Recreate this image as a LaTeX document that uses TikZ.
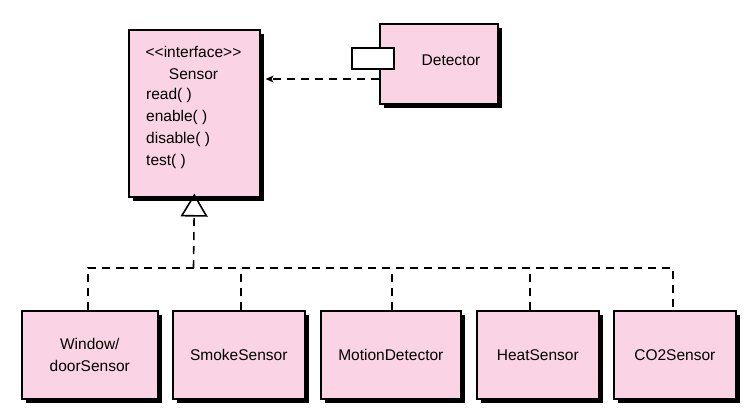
\documentclass[tikz,border=0pt]{standalone}
\usepackage{fontspec}
\setmainfont{Liberation Sans}
\usetikzlibrary{arrows.meta,shadows,calc}
\definecolor{boxpink}{RGB}{250,212,228}
\tikzset{
  umlbox/.style={draw=black, line width=1.6pt, fill=boxpink, anchor=north west,
    inner sep=0pt, drop shadow={shadow xshift=4.5pt, shadow yshift=-4.5pt, fill=black, opacity=1}},
  lbl/.style={font=\fontsize{15.5}{18}\selectfont, inner sep=0pt},
  dep/.style={line width=1.6pt, dash pattern=on 8pt off 6pt},
}
\begin{document}
\begin{tikzpicture}[x=1pt,y=-1pt]
\useasboundingbox (0,0) rectangle (751,407);
% Sensor interface
\node[umlbox, minimum width=131pt, minimum height=167pt] (sensor) at (128,29) {};
\node[lbl] (iface) at (193.5,52) {<{}<interface>{}>};
\node[lbl] (sname) at (193.5,74) {Sensor};
\node[lbl, anchor=north west, align=left, font=\fontsize{15.5}{22}\selectfont] (methods) at (146,88)
  {read( )\\enable( )\\disable( )\\test( )};
% Detector
\node[umlbox, minimum width=118pt, minimum height=80pt] (det) at (379,23) {};
\node[lbl] (detlbl) at (451,60) {Detector};
\node[draw=black, line width=1.6pt, fill=white, anchor=north west, inner sep=0pt,
  minimum width=42pt, minimum height=21pt] (port) at (351,47) {};
\coordinate (sx) at ([xshift=5pt]sensor.east);
\coordinate (dx) at (det.west);
\draw[dep] (dx |- 0,79) -- ([xshift=6pt]sx |- 0,79);
\fill[black] (sx |- 0,79) -- ([xshift=8pt,yshift=-3.5pt]sx |- 0,79) -- ([xshift=6pt]sx |- 0,79) -- ([xshift=8pt,yshift=3.5pt]sx |- 0,79) -- cycle;
% Subclasses
\node[umlbox, minimum width=136pt, minimum height=88pt] (win) at (21,310) {};
\node[lbl, align=center, font=\fontsize{15.5}{22}\selectfont] (winl) at (win.center) {Window/\\doorSensor};
\node[umlbox, minimum width=132pt, minimum height=88pt] (smoke) at (172,310) {};
\node[lbl] (smokel) at (smoke.center) {SmokeSensor};
\node[umlbox, minimum width=140pt, minimum height=88pt] (motion) at (320,310) {};
\node[lbl] (motionl) at (motion.center) {MotionDetector};
\node[umlbox, minimum width=122pt, minimum height=88pt] (heat) at (476,310) {};
\node[lbl] (heatl) at (heat.center) {HeatSensor};
\node[umlbox, minimum width=122pt, minimum height=88pt] (co2) at (613,310) {};
\node[lbl] (co2l) at (co2.center) {CO2Sensor};
% generalization
\coordinate (jn) at (193.5,268);
\draw[dep, -{Triangle[open, length=23pt, width=27pt, line width=1.6pt]}, shorten >=-4pt] (jn) -- (sensor.south);
\coordinate (jl) at (88,268);
\coordinate (jr) at (673,268);
\draw[dep] (win.north -| jl) -- (jl) -- (jr) -- (co2.north -| jr);
\draw[dep] (smoke.north -| 241,0) -- (241,268);
\draw[dep] (motion.north -| 392,0) -- (392,268);
\draw[dep] (heat.north -| 530,0) -- (530,268);
\end{tikzpicture}
\end{document}
